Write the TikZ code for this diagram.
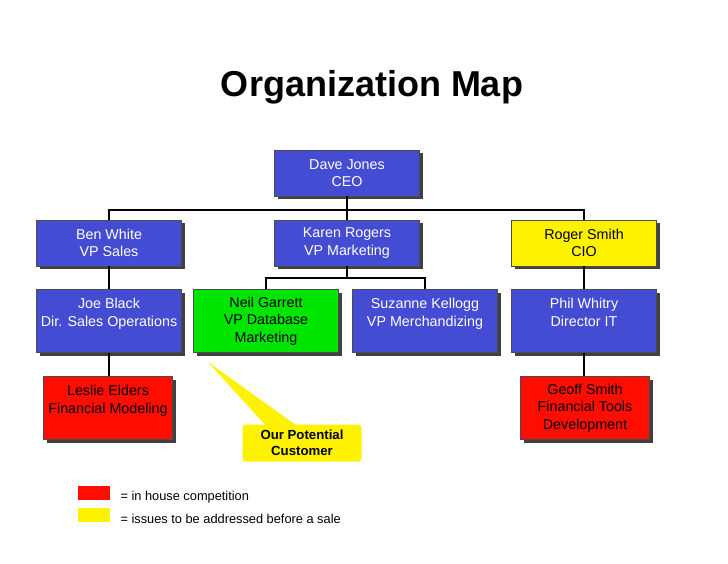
\documentclass[tikz,border=0pt]{standalone}
\usepackage{fontspec}
\setmainfont{Liberation Sans}
\usetikzlibrary{shadows}
\colorlet{bl}{rgb,255:red,68;green,76;blue,212}
\begin{document}
\begin{tikzpicture}[x=1pt,y=-1pt,
 bx/.style={draw=black!70,line width=0.6pt,minimum width=145pt,minimum height=46pt,fill=#1,align=center,font=\fontsize{14.3}{17.5}\selectfont,text=white,inner sep=1pt,
   drop shadow={shadow xshift=3pt,shadow yshift=-3pt,fill=black!75,opacity=1}},
 ln/.style={line width=2pt,black}]
\useasboundingbox (0,0) rectangle (728,563);
\node[font=\bfseries\fontsize{36}{40}\selectfont] (title) at (372,87) {Organization Map};
\node[bx=bl] (ceo) at (347,173) {Dave Jones\\CEO};
\node[bx=bl] (ben) at (109,243) {Ben White\\VP Sales};
\node[bx=bl] (kar) at (347,243) {Karen Rogers\\VP Marketing};
\node[bx=yellow,text=black] (rog) at (584,243) {Roger Smith\\CIO};
\node[bx=bl,minimum height=63pt] (joe) at (109,321) {Joe Black\\Dir. Sales Operations\\\mbox{}};
\node[bx=green!90!black,text=black,minimum height=63pt] (nei) at (266,321) {Neil Garrett\\VP Database\\Marketing};
\node[bx=bl,minimum height=63pt] (suz) at (425,321) {Suzanne Kellogg\\VP Merchandizing\\\mbox{}};
\node[bx=bl,minimum height=63pt] (phi) at (584,321) {Phil Whitry\\Director IT\\\mbox{}};
\node[bx=red!90!orange,text=black,minimum width=129pt,minimum height=63pt] (les) at (108,408) {Leslie Elders\\Financial Modeling\\\mbox{}};
\node[bx=red!90!orange,text=black,minimum width=129pt,minimum height=63pt] (geo) at (585,408) {Geoff Smith\\Financial Tools\\Development};
\coordinate (h) at (0,210);
\draw[ln] (ceo.south) -- (ceo.south|-h);
\draw[ln] (ben.north) -- (ben.north|-h) -- (rog.north|-h) -- (rog.north);
\draw[ln] (kar.north) -- (kar.north|-h);
\coordinate (h2) at (0,278);
\draw[ln] (kar.south) -- (kar.south|-h2);
\draw[ln] (nei.north) -- (nei.north|-h2) -- (suz.north|-h2) -- (suz.north);
\draw[ln] (ben.south) -- (joe.north);
\draw[ln] (rog.south) -- (phi.north);
\draw[ln] (joe.south) -- (joe.south|-les.north);
\draw[ln] (phi.south) -- (phi.south|-geo.north);
\coordinate (tip) at (208,362);
\fill[yellow] (tip) -- (268,428) -- (300,428) -- cycle;
\node[fill=yellow,rounded corners=3pt,minimum width=119pt,minimum height=37pt,align=center,font=\bfseries\fontsize{13.2}{15.5}\selectfont] (call) at (302,443) {Our Potential\\Customer};
\node[fill=red!90!orange,minimum width=32pt,minimum height=14pt,inner sep=0pt] (lr) at (94,493) {};
\node[fill=yellow,minimum width=32pt,minimum height=14pt,inner sep=0pt] (ly) at (94,515) {};
\node[anchor=west,font=\fontsize{12.8}{15}\selectfont] (t1) at (117,497) {= in house competition};
\node[anchor=west,font=\fontsize{12.8}{15}\selectfont] (t2) at (117,519) {= issues to be addressed before a sale};
\end{tikzpicture}
\end{document}
